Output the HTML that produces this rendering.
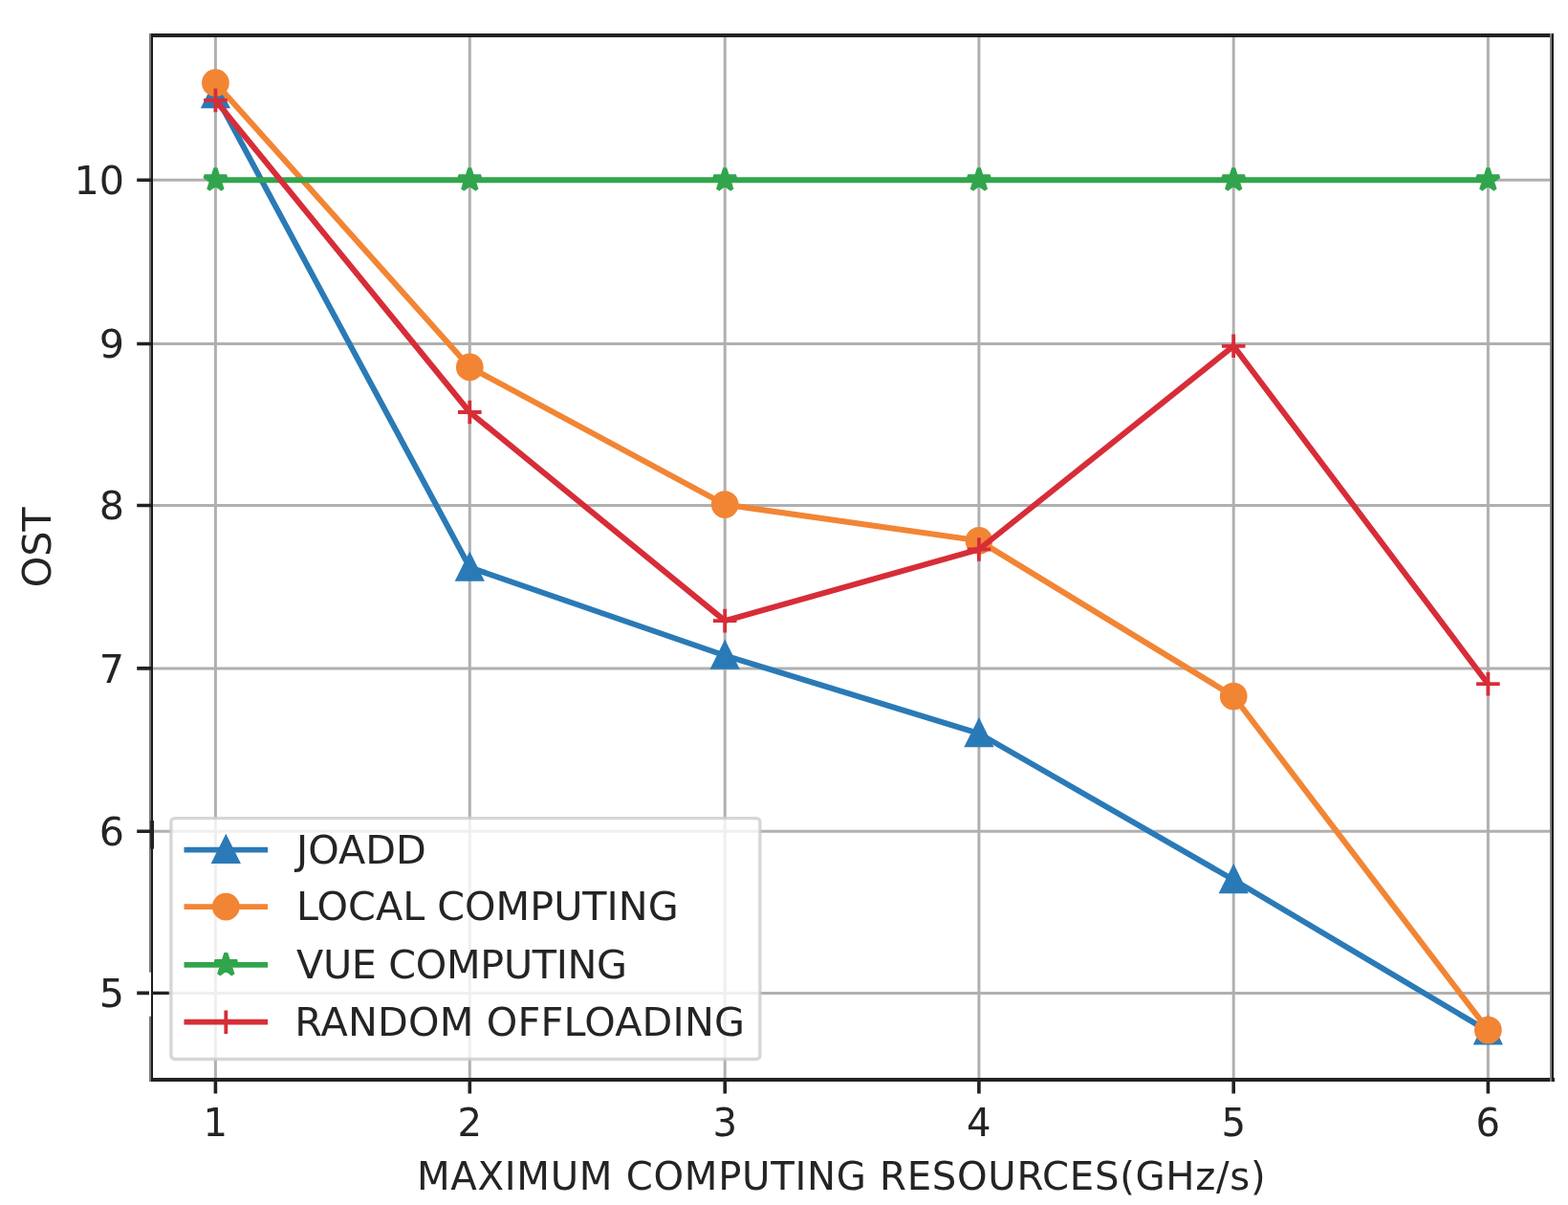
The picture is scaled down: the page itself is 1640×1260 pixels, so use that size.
<!DOCTYPE html>
<html><head><meta charset="utf-8"><title>OST vs Maximum Computing Resources</title>
<style>html,body{margin:0;padding:0;background:#fff;}body{width:1640px;height:1260px;overflow:hidden;}svg{display:block;}</style>
</head><body>
<svg width="1640" height="1260" viewBox="0 0 1640 1260">
<defs><clipPath id="clip"><rect x="158.0" y="37.0" width="1465.00" height="1092.00"/></clipPath></defs>
<rect width="1640" height="1260" fill="#ffffff"/>
<path d="M225.40,37.0V1129.0M491.30,37.0V1129.0M758.20,37.0V1129.0M1023.90,37.0V1129.0M1290.20,37.0V1129.0M1556.40,37.0V1129.0M158.0,1038.40H1623.0M158.0,869.20H1623.0M158.0,698.90H1623.0M158.0,528.50H1623.0M158.0,359.50H1623.0M158.0,188.30H1623.0" stroke="#b0b0b0" stroke-width="3" fill="none"/>
<g clip-path="url(#clip)">
<polyline points="225.40,99.00 491.30,593.30 758.20,685.50 1023.90,767.00 1290.20,920.00 1556.40,1078.20" fill="none" stroke="#2a7ab7" stroke-width="6.0" stroke-linejoin="round" stroke-linecap="butt"/>
<path d="M225.40,86.70L213.10,111.30L237.70,111.30Z" fill="#2a7ab7" stroke="#2a7ab7" stroke-width="4.1" stroke-linejoin="miter"/><path d="M491.30,581.00L479.00,605.60L503.60,605.60Z" fill="#2a7ab7" stroke="#2a7ab7" stroke-width="4.1" stroke-linejoin="miter"/><path d="M758.20,673.20L745.90,697.80L770.50,697.80Z" fill="#2a7ab7" stroke="#2a7ab7" stroke-width="4.1" stroke-linejoin="miter"/><path d="M1023.90,754.70L1011.60,779.30L1036.20,779.30Z" fill="#2a7ab7" stroke="#2a7ab7" stroke-width="4.1" stroke-linejoin="miter"/><path d="M1290.20,907.70L1277.90,932.30L1302.50,932.30Z" fill="#2a7ab7" stroke="#2a7ab7" stroke-width="4.1" stroke-linejoin="miter"/><path d="M1556.40,1065.90L1544.10,1090.50L1568.70,1090.50Z" fill="#2a7ab7" stroke="#2a7ab7" stroke-width="4.1" stroke-linejoin="miter"/>

<polyline points="225.40,86.70 491.30,383.90 758.20,527.60 1023.90,565.40 1290.20,728.00 1556.40,1077.00" fill="none" stroke="#f28534" stroke-width="6.0" stroke-linejoin="round" stroke-linecap="butt"/>
<circle cx="225.40" cy="86.70" r="12.30" fill="#f28534" stroke="#f28534" stroke-width="4.1"/><circle cx="491.30" cy="383.90" r="12.30" fill="#f28534" stroke="#f28534" stroke-width="4.1"/><circle cx="758.20" cy="527.60" r="12.30" fill="#f28534" stroke="#f28534" stroke-width="4.1"/><circle cx="1023.90" cy="565.40" r="12.30" fill="#f28534" stroke="#f28534" stroke-width="4.1"/><circle cx="1290.20" cy="728.00" r="12.30" fill="#f28534" stroke="#f28534" stroke-width="4.1"/><circle cx="1556.40" cy="1077.00" r="12.30" fill="#f28534" stroke="#f28534" stroke-width="4.1"/>

<polyline points="225.40,188.20 491.30,188.20 758.20,188.20 1023.90,188.20 1290.20,188.20 1556.40,188.20" fill="none" stroke="#31a54c" stroke-width="6.0" stroke-linejoin="round" stroke-linecap="butt"/>
<polygon points="225.40,175.90 228.16,184.40 237.10,184.40 229.87,189.65 232.63,198.15 225.40,192.90 218.17,198.15 220.93,189.65 213.70,184.40 222.64,184.40" fill="#31a54c" stroke="#31a54c" stroke-width="4.1" stroke-linejoin="bevel"/><polygon points="491.30,175.90 494.06,184.40 503.00,184.40 495.77,189.65 498.53,198.15 491.30,192.90 484.07,198.15 486.83,189.65 479.60,184.40 488.54,184.40" fill="#31a54c" stroke="#31a54c" stroke-width="4.1" stroke-linejoin="bevel"/><polygon points="758.20,175.90 760.96,184.40 769.90,184.40 762.67,189.65 765.43,198.15 758.20,192.90 750.97,198.15 753.73,189.65 746.50,184.40 755.44,184.40" fill="#31a54c" stroke="#31a54c" stroke-width="4.1" stroke-linejoin="bevel"/><polygon points="1023.90,175.90 1026.66,184.40 1035.60,184.40 1028.37,189.65 1031.13,198.15 1023.90,192.90 1016.67,198.15 1019.43,189.65 1012.20,184.40 1021.14,184.40" fill="#31a54c" stroke="#31a54c" stroke-width="4.1" stroke-linejoin="bevel"/><polygon points="1290.20,175.90 1292.96,184.40 1301.90,184.40 1294.67,189.65 1297.43,198.15 1290.20,192.90 1282.97,198.15 1285.73,189.65 1278.50,184.40 1287.44,184.40" fill="#31a54c" stroke="#31a54c" stroke-width="4.1" stroke-linejoin="bevel"/><polygon points="1556.40,175.90 1559.16,184.40 1568.10,184.40 1560.87,189.65 1563.63,198.15 1556.40,192.90 1549.17,198.15 1551.93,189.65 1544.70,184.40 1553.64,184.40" fill="#31a54c" stroke="#31a54c" stroke-width="4.1" stroke-linejoin="bevel"/>

<polyline points="225.40,104.90 491.30,431.00 758.20,649.10 1023.90,574.50 1290.20,361.80 1556.40,715.20" fill="none" stroke="#d72d38" stroke-width="6.0" stroke-linejoin="round" stroke-linecap="butt"/>
<path d="M213.10,104.90H237.70M225.40,92.60V117.20" stroke="#d72d38" stroke-width="3.8" fill="none"/><path d="M479.00,431.00H503.60M491.30,418.70V443.30" stroke="#d72d38" stroke-width="3.8" fill="none"/><path d="M745.90,649.10H770.50M758.20,636.80V661.40" stroke="#d72d38" stroke-width="3.8" fill="none"/><path d="M1011.60,574.50H1036.20M1023.90,562.20V586.80" stroke="#d72d38" stroke-width="3.8" fill="none"/><path d="M1277.90,361.80H1302.50M1290.20,349.50V374.10" stroke="#d72d38" stroke-width="3.8" fill="none"/><path d="M1544.10,715.20H1568.70M1556.40,702.90V727.50" stroke="#d72d38" stroke-width="3.8" fill="none"/>

</g>
<rect x="156" y="35" width="1469" height="4" fill="#222222"/>
<rect x="156" y="1127" width="1470" height="4" fill="#222222"/>
<rect x="156" y="35" width="2" height="1096" fill="#7a7a7a"/>
<rect x="158" y="35" width="2" height="1096" fill="#1c1c1c"/>
<rect x="1621" y="35" width="2" height="1096" fill="#808080"/>
<rect x="1623" y="35" width="2" height="1096" fill="#1c1c1c"/>
<path d="M225.40,1129.0V1143.4M491.30,1129.0V1143.4M758.20,1129.0V1143.4M1023.90,1129.0V1143.4M1290.20,1129.0V1143.4M1556.40,1129.0V1143.4M158.0,1038.40H143.2M158.0,869.20H143.2M158.0,698.90H143.2M158.0,528.50H143.2M158.0,359.50H143.2M158.0,188.30H143.2" stroke="#222222" stroke-width="3.6" fill="none"/>
<g font-family="'DejaVu Sans', 'Liberation Sans', sans-serif" font-size="41.3" fill="#242424">
<text x="225.40" y="1187.6" text-anchor="middle" font-size="40.2">1</text>
<text x="491.30" y="1187.6" text-anchor="middle" font-size="40.2">2</text>
<text x="758.20" y="1187.6" text-anchor="middle" font-size="40.2">3</text>
<text x="1023.90" y="1187.6" text-anchor="middle" font-size="40.2">4</text>
<text x="1290.20" y="1187.6" text-anchor="middle" font-size="40.2">5</text>
<text x="1556.40" y="1187.6" text-anchor="middle" font-size="40.2">6</text>
<text x="130" y="1053.30" text-anchor="end">5</text>
<text x="130" y="884.10" text-anchor="end">6</text>
<text x="130" y="713.80" text-anchor="end">7</text>
<text x="130" y="543.40" text-anchor="end">8</text>
<text x="130" y="374.40" text-anchor="end">9</text>
<text x="130" y="203.20" text-anchor="end">10</text>
<text x="436.0" y="1243.8" font-size="40.2" letter-spacing="0.70">MAXIMUM COMPUTING RESOURCES(GHz/s)</text>
<text transform="translate(53.3,572.3) rotate(-90)" text-anchor="middle">OST</text>
</g>
<rect x="178.9" y="855.6" width="616.0" height="251.9" rx="4" ry="4" fill="#ffffff" fill-opacity="0.8" stroke="#cccccc" stroke-opacity="0.8" stroke-width="3.3"/>
<path d="M192.5,888.7H280" stroke="#2a7ab7" stroke-width="5.8" fill="none"/>
<path d="M236.30,876.40L224.00,901.00L248.60,901.00Z" fill="#2a7ab7" stroke="#2a7ab7" stroke-width="4.1" stroke-linejoin="miter"/>
<text x="310" y="902.7" font-family="'DejaVu Sans', 'Liberation Sans', sans-serif" font-size="41.3" fill="#242424">JOADD</text>
<path d="M192.5,948.2H280" stroke="#f28534" stroke-width="5.8" fill="none"/>
<circle cx="236.30" cy="948.20" r="12.30" fill="#f28534" stroke="#f28534" stroke-width="4.1"/>
<text x="310" y="962.4" font-family="'DejaVu Sans', 'Liberation Sans', sans-serif" font-size="41.3" fill="#242424">LOCAL COMPUTING</text>
<path d="M192.5,1008.9H280" stroke="#31a54c" stroke-width="5.8" fill="none"/>
<polygon points="236.30,996.60 239.06,1005.10 248.00,1005.10 240.77,1010.35 243.53,1018.85 236.30,1013.60 229.07,1018.85 231.83,1010.35 224.60,1005.10 233.54,1005.10" fill="#31a54c" stroke="#31a54c" stroke-width="4.1" stroke-linejoin="bevel"/>
<text x="310" y="1022.5" font-family="'DejaVu Sans', 'Liberation Sans', sans-serif" font-size="41.3" fill="#242424" textLength="346.1" lengthAdjust="spacing">VUE COMPUTING</text>
<path d="M192.5,1068.7H280" stroke="#d72d38" stroke-width="5.8" fill="none"/>
<path d="M224.00,1068.70H248.60M236.30,1056.40V1081.00" stroke="#d72d38" stroke-width="3.8" fill="none"/>
<text x="308.2" y="1082.8" font-family="'DejaVu Sans', 'Liberation Sans', sans-serif" font-size="41.3" fill="#242424" textLength="470.9" lengthAdjust="spacing">RANDOM OFFLOADING</text>
<path d="M158.0,1038.40H176.7" stroke="#222222" stroke-width="3.4" fill="none"/>
<rect x="157.2" y="858" width="3.8" height="29.6" fill="#222222"/>
<rect x="156" y="1016.7" width="2" height="46" fill="#ffffff"/>
</svg>
</body></html>
